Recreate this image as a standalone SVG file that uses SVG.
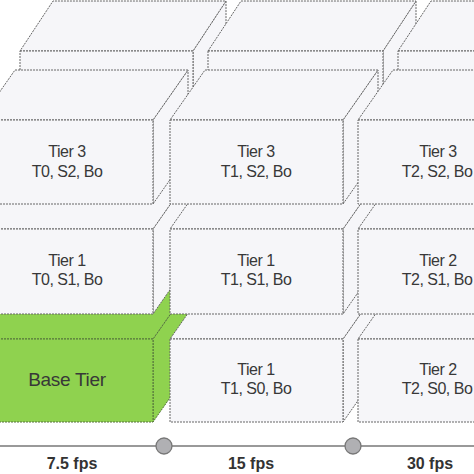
<svg xmlns="http://www.w3.org/2000/svg" width="474" height="474" viewBox="0 0 474 474">
<style>
.f{fill:#f6f6f9;stroke:#666;stroke-width:1;stroke-dasharray:2 1}
.g{fill:#8fd24f;stroke:#55733d;stroke-width:1;stroke-dasharray:2 1}
.t{font-family:"Liberation Sans",Arial,sans-serif;font-size:16px;fill:#383838;text-anchor:middle;letter-spacing:-0.5px}
.b{font-family:"Liberation Sans",Arial,sans-serif;font-size:19px;fill:#383838;text-anchor:middle;letter-spacing:-0.3px}
.fps{font-family:"Liberation Sans",Arial,sans-serif;font-size:16px;font-weight:bold;fill:#333;text-anchor:middle}
</style>
<rect width="474" height="474" fill="#ffffff"/>
<!-- back layer -->
<g id="back-T0">
<polygon class="f" points="193,51 226,1 226,85 193,135"/>
<polygon class="f" points="20,51 193,51 226,1 53,1"/>
<rect class="f" x="20" y="51" width="173" height="84"/>
</g>
<g id="back-T1">
<polygon class="f" points="383,51 416,1 416,85 383,135"/>
<polygon class="f" points="208,51 383,51 416,1 241,1"/>
<rect class="f" x="208" y="51" width="175" height="84"/>
</g>
<g id="back-T2">
<polygon class="f" points="571,51 604,1 604,85 571,135"/>
<polygon class="f" points="398,51 571,51 604,1 431,1"/>
<rect class="f" x="398" y="51" width="173" height="84"/>
</g>
<!-- front layer, bottom row -->
<g id="base-tier">
<polygon class="g" points="153,339 188,289 188,372 153,422"/>
<polygon class="g" points="-20,339 153,339 188,289 15,289"/>
<rect class="g" x="-20" y="339" width="173" height="83"/>
<text class="b" x="67" y="386">Base Tier</text>
</g>
<g id="t1-s0">
<polygon class="f" points="343,339 378,289 378,372 343,422"/>
<polygon class="f" points="170,339 343,339 378,289 205,289"/>
<rect class="f" x="170" y="339" width="173" height="83"/>
<text class="t" x="256" y="375">Tier 1</text>
<text class="t" x="256" y="394">T1, S0, Bo</text>
</g>
<g id="t2-s0">
<polygon class="f" points="531,339 566,289 566,372 531,422"/>
<polygon class="f" points="358,339 531,339 566,289 393,289"/>
<rect class="f" x="358" y="339" width="173" height="83"/>
<text class="t" x="438" y="375">Tier 2</text>
<text class="t" x="437" y="394">T2, S0, Bo</text>
</g>
<!-- middle row -->
<g id="t0-s1">
<polygon class="f" points="153,229 188,179 188,264 153,314"/>
<polygon class="f" points="-20,229 153,229 188,179 15,179"/>
<rect class="f" x="-20" y="229" width="173" height="85"/>
<text class="t" x="67" y="266">Tier 1</text>
<text class="t" x="67" y="285">T0, S1, Bo</text>
</g>
<g id="t1-s1">
<polygon class="f" points="343,229 378,179 378,264 343,314"/>
<polygon class="f" points="170,229 343,229 378,179 205,179"/>
<rect class="f" x="170" y="229" width="173" height="85"/>
<text class="t" x="256" y="266">Tier 1</text>
<text class="t" x="256" y="285">T1, S1, Bo</text>
</g>
<g id="t2-s1">
<polygon class="f" points="531,229 566,179 566,264 531,314"/>
<polygon class="f" points="358,229 531,229 566,179 393,179"/>
<rect class="f" x="358" y="229" width="173" height="85"/>
<text class="t" x="438" y="266">Tier 2</text>
<text class="t" x="437" y="285">T2, S1, Bo</text>
</g>
<!-- top row -->
<g id="t0-s2">
<polygon class="f" points="153,120 188,70 188,154 153,204"/>
<polygon class="f" points="-20,120 153,120 188,70 15,70"/>
<rect class="f" x="-20" y="120" width="173" height="84"/>
<text class="t" x="67" y="157">Tier 3</text>
<text class="t" x="67" y="177">T0, S2, Bo</text>
</g>
<g id="t1-s2">
<polygon class="f" points="343,120 378,70 378,154 343,204"/>
<polygon class="f" points="170,120 343,120 378,70 205,70"/>
<rect class="f" x="170" y="120" width="173" height="84"/>
<text class="t" x="256" y="157">Tier 3</text>
<text class="t" x="256" y="177">T1, S2, Bo</text>
</g>
<g id="t2-s2">
<polygon class="f" points="531,120 566,70 566,154 531,204"/>
<polygon class="f" points="358,120 531,120 566,70 393,70"/>
<rect class="f" x="358" y="120" width="173" height="84"/>
<text class="t" x="438" y="157">Tier 3</text>
<text class="t" x="437" y="177">T2, S2, Bo</text>
</g>
<!-- timeline -->
<g id="connectors">
<line x1="0" y1="446" x2="474" y2="446" stroke="#999" stroke-width="2"/>
</g>
<g id="tick-1"><circle cx="164" cy="446" r="8" fill="#b0b0b3" stroke="#777" stroke-width="1.3"/></g>
<g id="tick-2"><circle cx="353" cy="446" r="8" fill="#b0b0b3" stroke="#777" stroke-width="1.3"/></g>
<g id="labels">
<text class="fps" x="72" y="469">7.5 fps</text>
<text class="fps" x="251" y="469">15 fps</text>
<text class="fps" x="430" y="469">30 fps</text>
</g>
</svg>
